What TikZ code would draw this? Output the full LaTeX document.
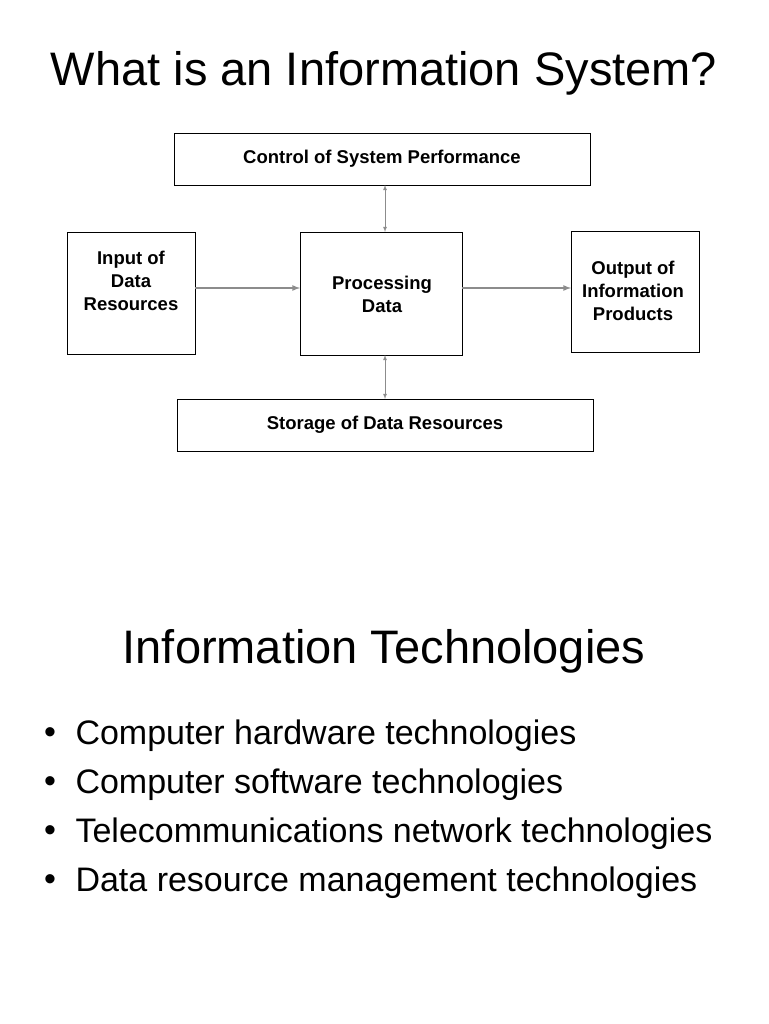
\documentclass[tikz,border=0pt]{standalone}
\usepackage{fontspec}
\setmainfont{Liberation Sans}
\begin{document}
\begin{tikzpicture}[x=1pt,y=-1pt,
  box/.style={draw=black,line width=0.8pt,fill=white},
  lbl/.style={font=\fontsize{18.5}{23}\selectfont\bfseries,align=center},
  arr/.style={draw=gray!90,line width=1.6pt,-latex},
  darr/.style={draw=gray!90,line width=0.8pt,latex-latex}]
\useasboundingbox (0,0) rectangle (768,1024);
\node[font=\fontsize{47}{54}\selectfont] (t1) at (384,73) {What is an Information System?};
\draw[box] (174,133) rectangle (590,185);
\node[lbl] (ctrl) at (382,159) {Control of System Performance};
\coordinate (ctrlb) at (385,185);
\draw[box] (67,232) rectangle (195,354);
\node[lbl] (inp) at (131,281) {Input of\\Data\\Resources};
\coordinate (inpr) at (195,288);
\draw[box] (300,232) rectangle (462,355);
\node[lbl] (proc) at (382,294) {Processing\\Data};
\coordinate (procl) at (300,288);
\coordinate (procr) at (462,288);
\coordinate (proct) at (385,232);
\coordinate (procb) at (385,355);
\draw[box] (571,231) rectangle (699,352);
\node[lbl] (out) at (633,291) {Output of\\Information\\Products};
\coordinate (outl) at (571,288);
\draw[box] (177,399) rectangle (593,451);
\node[lbl] (stor) at (385,425) {Storage of Data Resources};
\coordinate (stort) at (385,399);
\draw[arr] (inpr) -- (procl);
\draw[arr] (procr) -- (outl);
\draw[darr] (ctrlb) -- (proct);
\draw[darr] (procb) -- (stort);
\node[font=\fontsize{47}{54}\selectfont] (t2) at (384,651) {Information Technologies};
\foreach \y/\t [count=\i] in {736/Computer hardware technologies,785/Computer software technologies,834/Telecommunications network technologies,883/Data resource management technologies}{
  \node[font=\fontsize{34}{40}\selectfont,anchor=west] (b\i) at (72,\y) {\t};
  \node[font=\fontsize{34}{40}\selectfont] (d\i) at (50,\y) {•};
}
\end{tikzpicture}
\end{document}
